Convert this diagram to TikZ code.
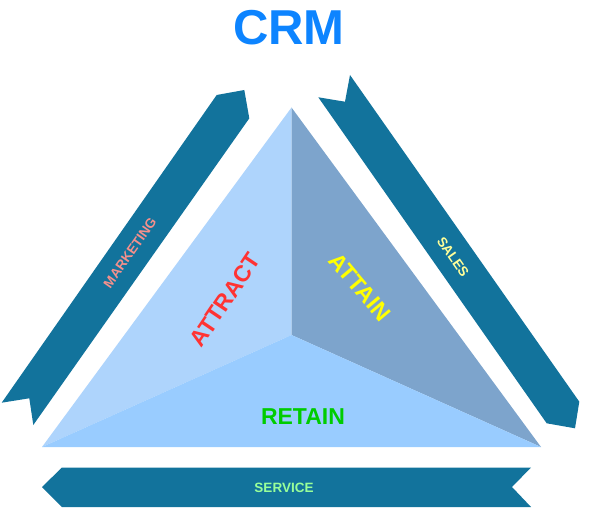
\documentclass[tikz,border=0pt]{standalone}
\usepackage{fontspec}
\setmainfont{Liberation Sans}
\usepackage{tikz}
\definecolor{bandc}{HTML}{12739C}
\definecolor{faceL}{HTML}{AED4FC}
\definecolor{faceR}{HTML}{7DA4CC}
\definecolor{faceB}{HTML}{99CCFF}
\definecolor{crmblue}{HTML}{0D84FF}
\definecolor{salmon}{HTML}{F4908C}
\definecolor{paleyel}{HTML}{FFFF99}
\definecolor{palegrn}{HTML}{99FF99}
\definecolor{red}{HTML}{FF3333}
\definecolor{yellow}{HTML}{FFFF00}
\definecolor{green}{HTML}{00CC00}
\tikzset{
  band/.style={fill=bandc, draw=none},
  face/.style={draw=none},
  labs/.style={font=\bfseries\fontsize{13.5}{14}\selectfont, inner sep=0pt},
  labb/.style={font=\bfseries\fontsize{23}{24}\selectfont, inner sep=0pt},
  title/.style={text=crmblue, font=\bfseries\fontsize{49}{50}\selectfont, inner sep=0pt},
}

\begin{document}
\begin{tikzpicture}[x=1pt, y=-1pt]
  \useasboundingbox (0,0) rectangle (592,508);
  % pyramid
  \coordinate (apex) at (291.5,107.5);
  \coordinate (lc) at (42,447);
  \coordinate (rc) at (541,447);
  \coordinate (mid) at (291.5,335);
  \fill[faceL] (apex) -- (lc) -- (mid) -- cycle;
  \fill[faceR] (apex) -- (mid) -- (rc) -- cycle;
  \fill[faceB] (lc) -- (mid) -- (rc) -- cycle;
  % bands
  \fill[band] (1.7,402.7) -- (29.3,398.3) -- (33.3,425) -- (249.3,118.3)
    -- (244.3,90) -- (216.7,95) -- cycle;
  \fill[band] (318.3,97.3) -- (345,101.7) -- (350,75) -- (579.3,401.7)
    -- (575,428.3) -- (546.7,423.3) -- cycle;
  \fill[band] (42,487) -- (62,467.5) -- (531,467.5) -- (512,487)
    -- (531,507) -- (62,507) -- cycle;
  % texts
  \node[title] (crm) at (289,28) {CRM};
  \node[labs, text=salmon, rotate=55] (mkt) at (130,253) {MARKETING};
  \node[labs, text=paleyel, rotate=-55] (sales) at (453,257) {SALES};
  \node[labs, text=palegrn] (serv) at (284,488) {SERVICE};
  \node[labb, text=red, rotate=56] (attract) at (225,300) {ATTRACT};
  \node[labb, text=yellow, rotate=-50] (attain) at (360,287) {ATTAIN};
  \node[labb, text=green] (retain) at (303,417) {RETAIN};
\end{tikzpicture}
\end{document}
